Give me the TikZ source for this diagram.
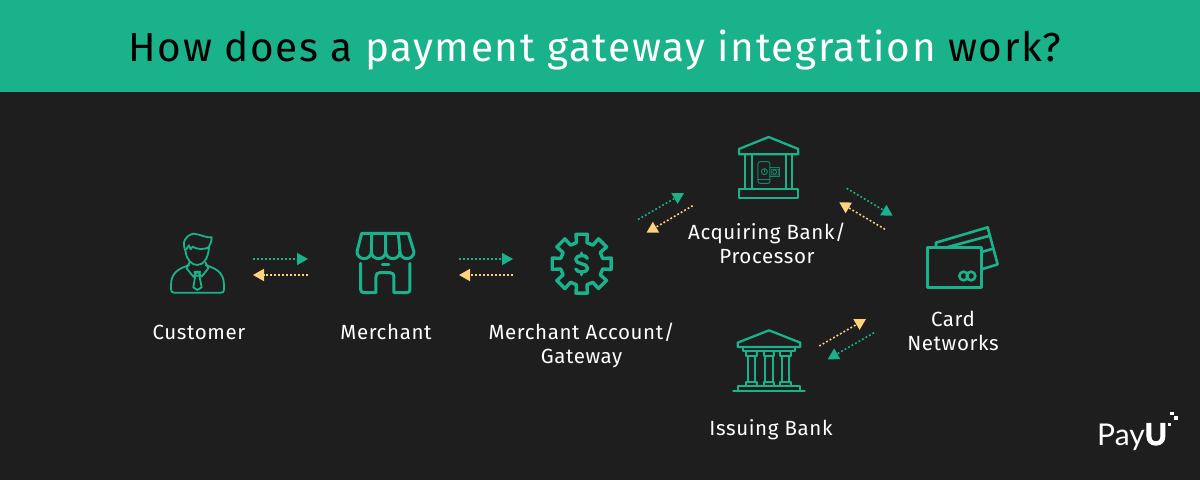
\documentclass[tikz,border=0pt]{standalone}
\usepackage{fontspec}
\setmainfont{Fira Sans}[LetterSpace=3,Ligatures=NoCommon]
\newfontfamily\titlefont{Fira Sans}[LetterSpace=4,Ligatures=NoCommon]
\newfontfamily\logofont{Lato}
\newfontfamily\logobold{Lato Bold}[FakeBold=3]
\usetikzlibrary{arrows.meta}
\definecolor{gr}{HTML}{19B28B}
\definecolor{yl}{HTML}{FFD37E}
\definecolor{bgd}{HTML}{1E1E1E}
\tikzset{
  flow/.style={line width=1.6pt,dash pattern=on 1.8pt off 2.2pt,-{Triangle[length=11pt,width=12pt]}},
  gflow/.style={flow,draw=gr},
  yflow/.style={flow,draw=yl},
  icon/.style={draw=gr,line width=2.3pt,line join=round,line cap=round},
  lab/.style={text=white,font=\fontsize{20.5}{24}\selectfont,align=center,anchor=base,inner sep=0pt},
  zoomed/.style={x=0.3333pt,y=-0.3333pt},
}
\begin{document}
\begin{tikzpicture}[x=1pt,y=-1pt]
\useasboundingbox (0,0) rectangle (1200,480);
\fill[bgd] (0,0) rectangle (1200,480);
\fill[gr] (0,0) rectangle (1200,92);
\node[anchor=base,inner sep=0pt,font=\titlefont\fontsize{40.5}{48}\selectfont] (title) at (595,61)
  {How does a \textcolor{white}{payment gateway integration} work?};

% customer
\begin{scope}[shift={(140,210)},zoomed,icon/.append style={line width=1.8pt}]
 \draw[icon] (137,125) .. controls (125,95) and (135,78) .. (160,71) .. controls (180,72) and (200,85) .. (215,82) .. controls (215,95) and (210,105) .. (205,112);
 \draw[icon] (137,125) .. controls (140,150) and (155,165) .. (172,165) .. controls (190,165) and (205,145) .. (207,112) .. controls (190,120) and (170,118) .. (158,110) -- (152,118) -- (147,106) -- (139,118);
 \draw[icon] (148,165) .. controls (120,175) and (93,185) .. (93,225) -- (93,238) .. controls (93,245) and (96,248) .. (103,248) -- (243,248) .. controls (250,248) and (252,245) .. (252,238) -- (252,225) .. controls (252,185) and (225,175) .. (197,165);
 \draw[icon] (148,158) -- (140,175) -- (160,200) -- (172,185) -- (185,200) -- (205,175) -- (197,158);
 \draw[icon] (164,185) -- (180,185) -- (178,197) -- (166,197) -- cycle;
 \draw[icon] (166,197) -- (160,232) -- (172,240) -- (185,232) -- (178,197);
\end{scope}

% merchant
\begin{scope}[shift={(140,210)},zoomed]
 \draw[icon,line width=3pt] (665,70) -- (805,70) -- (822,125) arc[start angle=0,end angle=180,x radius=21,y radius=21] arc[start angle=0,end angle=180,x radius=21.5,y radius=21] arc[start angle=0,end angle=180,x radius=21.5,y radius=21] arc[start angle=0,end angle=180,x radius=21.5,y radius=21] -- cycle;
 \draw[icon,line width=3pt] (695,70) -- (694,125) (737,70) -- (737,125) (775,70) -- (780,125);
 \draw[icon,line width=3pt] (662,160) -- (662,238) .. controls (662,245) and (665,248) .. (672,248) -- (708,248) -- (708,200) .. controls (708,192) and (712,188) .. (720,188) -- (750,188) .. controls (758,188) and (762,192) .. (762,200) -- (762,248) -- (800,248) .. controls (807,248) and (810,245) .. (810,238) -- (810,160);
 \draw[icon,line width=3pt] (727,163) -- (747,163);
\end{scope}

% gear
\begin{scope}[shift={(581.7,263.7)},zoomed]
 \draw[icon,line width=3.4pt] (-14:65)
   \foreach \a in {0,45,...,315}{ -- (\a-14:65) -- (\a-11:90) -- (\a+11:90) -- (\a+14:65) } -- cycle;
 \draw[icon,line width=3.4pt] (17,-16) .. controls (14,-28) and (-14,-28) .. (-18,-14) .. controls (-20,4) and (18,-4) .. (18,14) .. controls (18,28) and (-14,28) .. (-18,16);
 \draw[icon,line width=3.4pt] (0,-32) -- (0,-24) (0,26) -- (0,33);
\end{scope}

% acquiring bank
\begin{scope}[shift={(630,125)},zoomed]
 \draw[icon] (327,72) -- (416,36) -- (505,72) -- (505,88) -- (327,88) -- cycle;
 \draw[icon] (345,88) -- (345,192) (365,88) -- (365,192) (468,88) -- (468,192) (487,88) -- (487,192);
 \draw[icon] (327,192) rectangle (505,220);
 \draw[icon,line width=1pt,draw=gr!75!black] (391,110) -- (413,110) .. controls (418,110) and (420,112) .. (420,117) -- (420,168) .. controls (420,173) and (418,175) .. (413,175) -- (391,175) .. controls (386,175) and (384,173) .. (384,168) -- (384,117) .. controls (384,112) and (386,110) .. (391,110) -- cycle;
 \draw[icon,line width=1pt,draw=gr!75!black] (403,140) circle[radius=9];
 \draw[icon,line width=.8pt,draw=gr!75!black] (403,134) -- (403,141) (384,162) -- (420,162);
 \draw[icon,line width=1pt,draw=gr!75!black] (420,127) -- (450,127) -- (450,155) -- (420,155);
 \draw[icon,line width=.8pt,draw=gr!75!black] (434,141) circle[radius=6] (424,133) rectangle (446,150);
\end{scope}

% issuing bank + card
\begin{scope}[shift={(720,220)},zoomed]
 \draw[icon] (53,368) -- (147,331) -- (241,368) -- (241,381) -- (53,381) -- cycle;
 \draw[icon] (68,381) -- (68,394) -- (226,394) -- (226,381);
 \foreach \c in {95,147,197}{
  \draw[icon] (\c-16,395) -- (\c-16,408) -- (\c+16,408) -- (\c+16,395);
  \draw[icon] (\c-11,408) -- (\c-11,487) (\c+11,408) -- (\c+11,487);
  \draw[icon] (\c-16,498) -- (\c-16,487) -- (\c+16,487) -- (\c+16,498);
 }
 \draw[icon] (55,512) -- (55,498) -- (240,498) -- (240,512);
 \draw[icon] (40,512) -- (254,512);
 % wallet
 \draw[icon,line width=2.6pt] (623,83) rectangle (785,203);
 \draw[icon,line width=2.6pt] (648,80) -- (648,68) -- (803,22) -- (833,133) -- (785,148);
 \draw[icon,line width=2.6pt] (680,82) -- (810,47);
 \draw[icon,line width=2.6pt] (785,96) -- (816,87);
 \draw[icon,line width=2.6pt] (731,168) circle[radius=13] (753,168) circle[radius=13];
\end{scope}

% connector end points
\coordinate (a1) at (253,259); \coordinate (a2) at (308,259);
\coordinate (b1) at (308,275); \coordinate (b2) at (253,275);
\coordinate (c1) at (459,259); \coordinate (c2) at (513,259);
\coordinate (d1) at (513,275); \coordinate (d2) at (459,275);
\coordinate (e1) at (638,219.5); \coordinate (e2) at (684,193);
\coordinate (f1) at (692.7,205.7); \coordinate (f2) at (646.5,232.7);
\coordinate (g1) at (846.7,188.3); \coordinate (g2) at (892.7,215.7);
\coordinate (h1) at (885,229.3); \coordinate (h2) at (839.3,202.3);
\coordinate (i1) at (819.3,346); \coordinate (i2) at (866,319);
\coordinate (j1) at (874,332.7); \coordinate (j2) at (827.7,359.3);
\draw[gflow] (a1) -- (a2);
\draw[yflow] (b1) -- (b2);
\draw[gflow] (c1) -- (c2);
\draw[yflow] (d1) -- (d2);
\draw[gflow] (e1) -- (e2);
\draw[yflow] (f1) -- (f2);
\draw[gflow] (g1) -- (g2);
\draw[yflow] (h1) -- (h2);
\draw[yflow] (i1) -- (i2);
\draw[gflow] (j1) -- (j2);

% labels
\node[lab] (customer) at (199,339) {Customer};
\node[lab] (merchant) at (386,339) {Merchant};
\node[lab] (account) at (581.5,363) {Merchant Account/\\Gateway};
\node[lab] (acquiring) at (767,263) {Acquiring Bank/\\Processor};
\node[lab] (card) at (953,350) {Card\\Networks};
\node[lab] (issuing) at (771,435) {Issuing Bank};

% logo
\node[anchor=base west,inner sep=0pt,text=white,font=\logofont\fontsize{30}{30}\selectfont] (logo) at (1097,445) {Pay{\logobold U}};
\fill[white] (1170,411.5) rectangle (1173.5,415);
\fill[white] (1174,416) rectangle (1178,420);
\fill[white] (1167.5,422.5) rectangle (1170.5,426);
\end{tikzpicture}
\end{document}
